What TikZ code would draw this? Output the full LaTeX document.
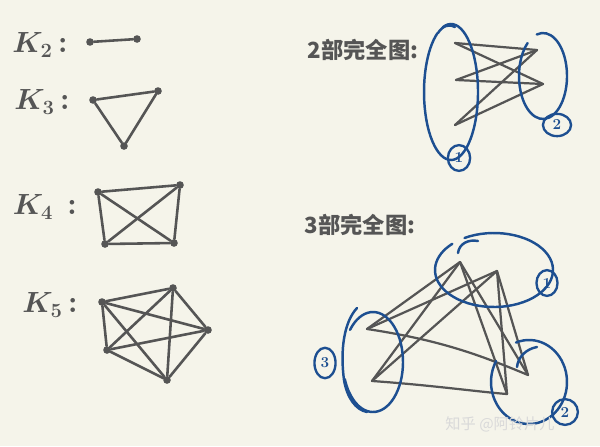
\documentclass[tikz,border=0pt]{standalone}
\usepackage{fontspec}
\usetikzlibrary{shapes.geometric}
\newfontfamily\cjk{Noto Sans CJK SC}
\definecolor{bg}{HTML}{F5F4EA}
\definecolor{ink}{HTML}{555555}
\definecolor{pen}{HTML}{1D4F91}
\begin{document}
\begin{tikzpicture}[x=0.03cm,y=-0.03cm,
  edge/.style={ink, line width=2.2pt, line cap=round},
  thin edge/.style={ink, line width=1.9pt, line cap=round},
  vtx/.style={circle, fill=ink, inner sep=0pt, minimum size=6.5pt},
  hull/.style={pen, line width=2.1pt, line cap=round},
  lbl/.style={ink, font=\fontsize{27}{29}\selectfont\bfseries\boldmath, inner sep=0pt},
  title/.style={ink, font=\cjk\bfseries\fontsize{19}{21}\selectfont, inner sep=0pt},
  numc/.style={draw=pen, line width=2pt, text=pen, ellipse, inner sep=0pt,
    minimum width=19pt, minimum height=22pt, font=\fontsize{13}{13}\selectfont\bfseries},
  wmark/.style={text=gray!30, font=\cjk\fontsize{13}{13}\selectfont, inner sep=0pt}
]
\fill[bg] (0,0) rectangle (600,446);
\useasboundingbox (0,0) rectangle (600,446);

% ---- labels
\node[lbl] (lk2) at (40,45) {$K_2$\,:};
\node[lbl] (lk3) at (42,102) {$K_3$\,:};
\node[lbl] (lk4) at (45,207) {$K_4$\;\,:};
\node[lbl] (lk5) at (50,305) {$K_5$\,:};
\node[title] (t2) at (363,50) {2部完全图:};
\node[title] (t3) at (360,225) {3部完全图:};

% ---- K2
\node[vtx] (a1) at (90,42) {};
\node[vtx] (a2) at (137,39) {};
\draw[edge] (a1) -- (a2);

% ---- K3
\node[vtx] (c1) at (93,100) {};
\node[vtx] (c2) at (158,91) {};
\node[vtx] (c3) at (124,146) {};
\draw[edge] (c1) -- (c2) -- (c3) -- (c1);

% ---- K4
\node[vtx] (d1) at (98,192) {};
\node[vtx] (d2) at (180,185) {};
\node[vtx] (d3) at (105,244) {};
\node[vtx] (d4) at (174,243) {};
\draw[edge] (d1) -- (d2) -- (d4) -- (d3) -- (d1);
\draw[edge] (d1) -- (d4);
\draw[edge] (d2) -- (d3);

% ---- K5
\node[vtx] (e1) at (102,302) {};
\node[vtx] (e2) at (173,288) {};
\node[vtx] (e3) at (208,330) {};
\node[vtx] (e4) at (167,380) {};
\node[vtx] (e5) at (107,350) {};
\draw[edge] (e1) -- (e2) -- (e3) -- (e4) -- (e5) -- (e1);
\draw[edge] (e1) -- (e3);
\draw[edge] (e1) -- (e4);
\draw[edge] (e2) -- (e4);
\draw[edge] (e2) -- (e5);
\draw[edge] (e3) -- (e5);

% ---- 2-partite
\coordinate (l1) at (455,43);
\coordinate (l2) at (456,80);
\coordinate (l3) at (455,125);
\coordinate (r1) at (537,50);
\coordinate (r2) at (543,84);
\foreach \l in {l1,l2,l3}{
  \foreach \r in {r1,r2}{\draw[thin edge] (\l) -- (\r);}}
\draw[hull] (451,92) ++(252:27 and 68) arc[start angle=252, end angle=600, x radius=27, y radius=68];
\draw[hull] (438,33) .. controls (443,25) and (450,24) .. (455,27);
\draw[hull] (543,76) ++(255:24 and 43) arc[start angle=255, end angle=590, x radius=24, y radius=43];
\node[numc] (n21) at (459,158) {1};
\node[numc, minimum width=24pt, minimum height=19pt] (n22) at (557,125) {2};

% ---- 3-partite
\coordinate (p1) at (460,262);
\coordinate (p2) at (497,271);
\coordinate (q1) at (367,329);
\coordinate (q2) at (372,381);
\coordinate (s1) at (528,375);
\coordinate (s2) at (507,394);
\foreach \p in {p1,p2}{
  \foreach \q in {q1,q2,s1,s2}{\draw[thin edge] (\p) -- (\q);}}
\draw[thin edge] (q1) .. controls (440,340) and (480,355) .. (s1);
\draw[thin edge] (q2) .. controls (430,385) and (480,392) .. (s2);
\draw[hull] (494,270) ++(240:59 and 37) arc[start angle=240, end angle=585, x radius=59, y radius=37];
\draw[hull] (458,253) .. controls (459,244) and (468,239) .. (478,241);
\draw[hull] (357,308) .. controls (344,322) and (340,350) .. (344,380) .. controls (347,398) and (356,410) .. (367,412);
\draw[hull] (373,362) ++(220:30 and 50) arc[start angle=220, end angle=520, x radius=30, y radius=50];
\draw[hull] (529,382) ++(250:38 and 42) arc[start angle=250, end angle=570, x radius=38, y radius=42];
\draw[hull] (517,367) .. controls (518,357) and (526,349) .. (537,347);
\node[numc, minimum width=18pt, minimum height=22pt] (n31) at (547,283) {1};
\node[numc, minimum width=18pt, minimum height=26pt] (n33) at (325,363) {3};
\node[numc, minimum width=22pt, minimum height=22pt] (n32) at (565,412) {2};

% ---- watermark
\node[wmark] (wm) at (500,424) {知乎 @阿铃片儿};
\end{tikzpicture}
\end{document}
